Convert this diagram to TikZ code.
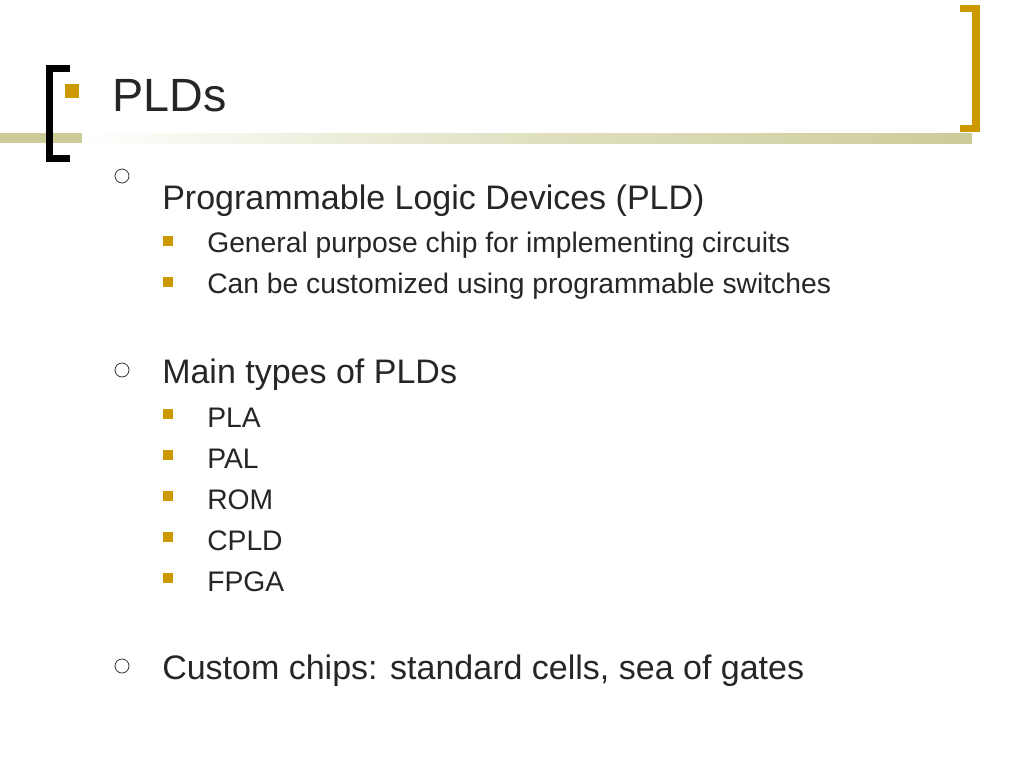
\documentclass[tikz,border=0pt]{standalone}
\usepackage{fontspec}
\setmainfont{Liberation Sans}
\usetikzlibrary{positioning}
\definecolor{olive}{RGB}{204,204,153}
\definecolor{gold}{RGB}{204,153,0}
\tikzstyle{lvlone} = [anchor = west, inner sep = 0pt, font = \fontsize{25.5pt}{28pt}\selectfont, text = black!85]
\tikzstyle{lvltwo} = [anchor = west, inner sep = 0pt, font = \fontsize{21.2pt}{24pt}\selectfont, text = black!85]
\tikzstyle{ring} = [draw = black!80, circle, semithick, minimum size = 10.5pt, inner sep = 0pt]
\tikzstyle{sq} = [fill = gold, minimum size = 7.5pt, inner sep = 0pt]
\begin{document}
\begin{tikzpicture}[x = 0.75pt, y = -0.75pt]

			\useasboundingbox (0,0) rectangle (1024,768);

			% Title bar
			\fill[olive] (0,133) rectangle (82,143);
			\shade[left color = white, right color = olive, middle color = olive!60] (82,133) rectangle (972,143);

			% Brackets
			\fill[black] (46,65) rectangle (53,162);
			\fill[black] (46,65) rectangle (70,72);
			\fill[black] (46,155) rectangle (70,162);
			\fill[gold] (972,5) rectangle (980,132);
			\fill[gold] (960,5) rectangle (980,12);
			\fill[gold] (960,125) rectangle (980,132);

			% Title
			\node[fill = gold, minimum size = 10.5pt, inner sep = 0pt] (tsq) at (72,91) {};
			\node[anchor = west, inner sep = 0pt, font = \fontsize{35pt}{40pt}\selectfont, text = black!85] (title) at (112,96) {PLDs};

			% Level one
			\node[lvlone] (pld) at (162,201) {Programmable Logic Devices (PLD)};
			\node[lvlone] (types) at (162,375) {Main types of PLDs};
			\node[lvlone] (custom) at (162,671) {Custom chips: standard cells, sea of gates};
			\foreach \yy/\nm in {176/ra, 370/rb, 666/rc}
				\node[ring] (\nm) at (122,\yy) {};

			% Level two
			\node[lvltwo] (gen) at (207,245) {General purpose chip for implementing circuits};
			\node[lvltwo] (cust) at (207,286) {Can be customized using programmable switches};
			\node[lvltwo] (pla) at (207,418) {PLA};
			\node[lvltwo] (pal) at (207,459) {PAL};
			\node[lvltwo] (rom) at (207,500) {ROM};
			\node[lvltwo] (cpld) at (207,541) {CPLD};
			\node[lvltwo] (fpga) at (207,582) {FPGA};
			\foreach \yy [count = \i] in {241, 282, 414, 455, 496, 537, 578}
				\node[sq] (sq\i) at (168,\yy) {};

\end{tikzpicture}
\end{document}
